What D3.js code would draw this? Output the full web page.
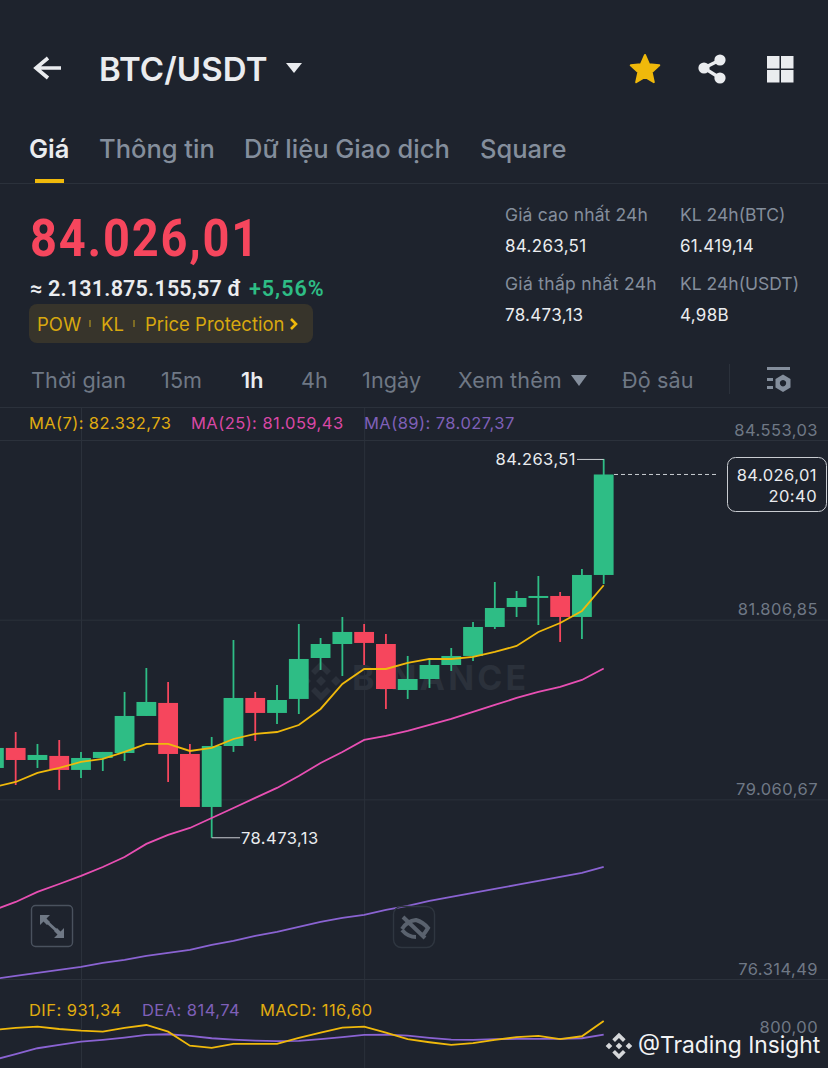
<!DOCTYPE html>
<html>
<head>
<meta charset="utf-8">
<script src="https://cdn.jsdelivr.net/npm/d3@7"></script>
<style>
  html, body { margin: 0; padding: 0; background: #1e232d; }
  svg { display: block; }
  text { font-family: Inter, "Noto Sans", sans-serif; }
</style>
</head>
<body>
<div id="chart"></div>
<script>
// candles, oldest first, one per hour
const opens  = [79540,79846,79662,79724,79510,79693,79769,80335,80534,79754,78944,79876,80610,80381,80595,81221,81435,81619,81435,80732,80900,81114,81252,81695,82001,82154,82169,81848,82490];
const highs  = [79968,80090,79907,79968,79785,79785,80702,81068,80854,79907,80014,81496,80702,80809,81741,81527,81848,81741,81588,81252,81221,81374,81771,82383,82245,82474,82230,82581,84263.51];
const lows   = [79433,79280,79540,79204,79387,79494,79647,80335,79326,78944,78473.13,79785,79953,80213,80365,81038,80946,81114,80442,80595,80763,81023,81175,81664,81848,81725,81466,81512,82352];
const closes = [79846,79662,79739,79510,79693,79785,80335,80549,79754,78944,79876,80610,80381,80579,81206,81435,81619,81451,80747,80900,81114,81252,81695,81985,82138,82169,81848,82490,84026.01];

const ma7  = [79250,79326,79464,79540,79632,79678,79785,79907,79907,79800,79846,79983,80060,80090,80197,80442,80824,81053,81053,81145,81206,81206,81237,81313,81405,81619,81756,81940,82332.73];
const ma25 = [77370,77492,77645,77767,77890,78027,78180,78379,78516,78623,78776,78929,79082,79235,79418,79617,79785,79968,80029,80106,80197,80289,80396,80503,80610,80702,80778,80885,81059.43];
const ma89 = [76315,76361,76407,76453,76499,76560,76606,76667,76713,76759,76835,76896,76973,77034,77110,77187,77248,77294,77370,77431,77507,77569,77630,77691,77752,77813,77874,77935,78027.37];

const dif = [855,872,883,863,849,840,872,897,840,721,702,736,736,736,787,832,874,883,832,776,750,727,742,770,793,804,776,801,931.34];
const dea = [600,648,699,727,755,770,789,812,818,804,784,772,764,759,761,776,793,812,815,806,787,772,770,776,778,778,778,784,814.74];

const priceTicks = [84553.03,81806.85,79060.67,76314.49];
const macdTick = 800;
const gridCandles = [4,17];
const lastPrice = 84026.01, lastTime = '20:40';
const highPrice = 84263.51, lowPrice = 78473.13;

const tabs = ['Giá','Thông tin','Dữ liệu Giao dịch','Square'];
const intervals = ['Thời gian','15m','1h','4h','1ngày','Xem thêm','Độ sâu'];

const col = {
  bg: '#1e232d', line: '#2b313b', text: '#eaecef', mute: '#848e9c',
  up: '#2ebd85', down: '#f6465d', yellow: '#f0b90b',
  pink: '#e84fb3', purple: '#8a63d2'
};

const W = 828, H = 1068;
const vi = d3.formatLocale({decimal: ',', thousands: '.', grouping: [3]});
const fmt = vi.format(',.2f');

const svg = d3.select('#chart').append('svg').attr('width', W).attr('height', H);
svg.append('rect').attr('width', W).attr('height', H).attr('fill', col.bg);

function label(str, x, y, size, fill, weight, anchor, spacing) {
  return svg.append('text').text(str).attr('x', x).attr('y', y)
    .attr('font-size', size).attr('fill', fill)
    .attr('font-weight', weight || 400)
    .attr('text-anchor', anchor || 'start')
    .attr('letter-spacing', spacing || 0);
}

// ---- header
svg.append('path').attr('d', 'M61 68H37M48 58L36 68L48 78').attr('fill', 'none')
  .attr('stroke', col.text).attr('stroke-width', 3.6);
label('BTC/USDT', 99, 81, 33, col.text, 600, 'start', 0.1);
svg.append('path').attr('d', 'M286 63H302L294 73Z').attr('fill', col.text);
svg.append('path').attr('fill', col.yellow).attr('stroke', col.yellow).attr('stroke-width', 2).attr('stroke-linejoin', 'round')
  .attr('d', d3.range(10).map(i => {
    const r = i % 2 ? 7 : 15, a = -Math.PI / 2 + i * Math.PI / 5;
    return (i ? 'L' : 'M') + (645 + r * Math.cos(a)) + ' ' + (70 + r * Math.sin(a));
  }).join('') + 'Z');
svg.append('path').attr('d', 'M720 60L704 68L720 78').attr('fill', 'none').attr('stroke', col.text).attr('stroke-width', 3.4);
[[704,68],[720,60],[720,78]].forEach(c => svg.append('circle').attr('cx', c[0]).attr('cy', c[1]).attr('r', 5.6).attr('fill', col.text));
[[767,56],[781,56],[767,70],[781,70]].forEach(c => svg.append('rect').attr('x', c[0]).attr('y', c[1]).attr('width', 12.5).attr('height', 12.5).attr('fill', col.text));

// ---- tabs
[29,99,244,480].forEach((x, i) => {
  label(tabs[i], x, 158, 25.5, i ? col.mute : col.text, i ? 500 : 600);
});
svg.append('rect').attr('x', 35).attr('y', 179).attr('width', 29).attr('height', 5).attr('fill', col.yellow);
svg.append('line').attr('x1', 0).attr('x2', W).attr('y1', 183.5).attr('y2', 183.5).attr('stroke', col.line);

// ---- price block
label('84.026,01', 30, 256, 52, col.down, 700, 'start', 2)
  .attr('textLength', 230).attr('lengthAdjust', 'spacingAndGlyphs').style('font-family', 'Roboto');
label('≈ 2.131.875.155,57 đ', 30, 296, 21.5, col.text, 600, 'start', 0.2).style('font-family', 'Roboto');
label('+5,56%', 249, 296, 21.5, col.up, 600, 'start', 1).style('font-family', 'Roboto');
svg.append('rect').attr('x', 29).attr('y', 304).attr('width', 284).attr('height', 39).attr('rx', 8).attr('fill', '#37342b');
label('POW', 37, 331, 18.5, '#d8a80f');
label('KL', 101, 331, 18.5, '#d8a80f');
label('Price Protection', 145, 331, 18.5, '#d8a80f');
[90,134].forEach(x => svg.append('line').attr('x1', x).attr('x2', x).attr('y1', 320).attr('y2', 327).attr('stroke', '#7d6c24').attr('stroke-width', 2));
svg.append('path').attr('d', 'M291 319L296 324L291 329').attr('fill', 'none').attr('stroke', col.yellow).attr('stroke-width', 2.6);

label('Giá cao nhất 24h', 505, 221, 17.5, col.mute, 400, 'start', 0.15);
label('84.263,51', 505, 252, 17, col.text, 400, 'start', 0.3);
label('Giá thấp nhất 24h', 505, 290, 17.5, col.mute, 400, 'start', 0.3);
label('78.473,13', 505, 321, 17, col.text, 400, 'start', 0.3);
label('KL 24h(BTC)', 680, 221, 17.5, col.mute);
label('61.419,14', 680, 252, 17, col.text, 400, 'start', 0.3);
label('KL 24h(USDT)', 680, 290, 17.5, col.mute);
label('4,98B', 680, 321, 17, col.text, 400, 'start', 0.3);

// ---- interval row
[31,161,241,301,362,458,622].forEach((x, i) => {
  label(intervals[i], x, 388, 21.6, i === 2 ? col.text : '#6f7885', i === 2 ? 600 : 400, 'start', 0.1);
});
svg.append('path').attr('d', 'M571 375H587L579 386Z').attr('fill', col.mute);
svg.append('line').attr('x1', 729.5).attr('x2', 729.5).attr('y1', 364).attr('y2', 394).attr('stroke', col.line);
svg.append('path').attr('fill', col.mute).attr('fill-rule', 'evenodd')
  .attr('d', 'M767 367H790V370H767ZM767 378H773V381H767ZM767 386H773V389H767ZM783 374.5L790.5 379V387.5L783 392L775.5 387.5V379ZM783 380a3.2 3.2 0 1 0 .01 0Z');
svg.append('line').attr('x1', 0).attr('x2', W).attr('y1', 407.5).attr('y2', 407.5).attr('stroke', col.line);

// ---- scales
const idx = d3.range(opens.length);
const x = d3.scaleLinear().domain([0, opens.length - 1]).range([-6.1, 603.7]);
const y = d3.scaleLinear().domain([priceTicks[3], priceTicks[0]]).range([979, 440]);
const yM = d3.scaleLinear().domain([530.7, 1280.2]).range([1068, 980]);
const bodyW = 19.8;

// ---- grid and axes
const xAxisG = svg.append('g').attr('transform', 'translate(0,1068)')
  .call(d3.axisBottom(x).tickValues(gridCandles).tickSize(-660).tickFormat(''));
xAxisG.select('.domain').remove();
xAxisG.selectAll('line').attr('stroke', col.line);

const yAxisG = svg.append('g').attr('transform', `translate(${W},0)`)
  .call(d3.axisLeft(y).tickValues(priceTicks).tickSize(W).tickFormat(fmt));
yAxisG.select('.domain').remove();
yAxisG.selectAll('line').attr('stroke', col.line);
yAxisG.selectAll('text').attr('x', -10).attr('dy', -5).attr('font-size', 16.5)
  .attr('fill', '#6f7885').attr('font-family', 'Inter').attr('text-anchor', 'end').attr('letter-spacing', 0.45);

// ---- watermark
const logoPath = 'M12 2L7 7L9 9L12 6L15 9L17 7ZM12 22L7 17L9 15L12 18L15 15L17 17ZM2 12L4.5 9.5L7 12L4.5 14.5ZM22 12L19.5 9.5L17 12L19.5 14.5ZM12 9.5L14.5 12L12 14.5L9.5 12Z';
svg.append('path').attr('d', logoPath).attr('fill', '#2b313b').attr('transform', 'translate(297,657) scale(2)');
label('BINANCE', 352, 690, 34, '#2b313b', 700, 'start', 3.2);

// ---- candles
const candle = svg.append('g').selectAll('g').data(idx).join('g');
candle.append('line')
  .attr('x1', i => x(i)).attr('x2', i => x(i))
  .attr('y1', i => y(highs[i])).attr('y2', i => y(lows[i]))
  .attr('stroke', i => closes[i] >= opens[i] ? col.up : col.down)
  .attr('stroke-width', 1.8);
candle.append('rect')
  .attr('x', i => x(i) - bodyW / 2).attr('width', bodyW)
  .attr('y', i => y(Math.max(opens[i], closes[i])))
  .attr('height', i => Math.max(2, Math.abs(y(opens[i]) - y(closes[i]))))
  .attr('fill', i => closes[i] >= opens[i] ? col.up : col.down);

// ---- moving averages and MACD
const priceLine = d3.line().x((d, i) => x(i)).y(d => y(d));
const macdLine = d3.line().x((d, i) => x(i)).y(d => yM(d));
[[ma89, col.purple], [ma25, col.pink], [ma7, col.yellow]].forEach(s => {
  svg.append('path').datum(s[0]).attr('d', priceLine).attr('fill', 'none').attr('stroke', s[1]).attr('stroke-width', 1.8);
});
[[dea, col.purple], [dif, col.yellow]].forEach(s => {
  svg.append('path').datum(s[0]).attr('d', macdLine).attr('fill', 'none').attr('stroke', s[1]).attr('stroke-width', 1.8);
});

// ---- high / low / last price labels
const hiX = x(idx[idx.length - 1]), loX = x(lows.indexOf(lowPrice));
svg.append('path').attr('fill', 'none').attr('stroke', '#c9ccd1').attr('stroke-width', 1)
  .attr('d', `M${hiX} ${y(highPrice) + 0.5}H577M${loX} ${y(lowPrice)}H240`);
label(fmt(highPrice), 576, y(highPrice) + 6, 16.5, col.text, 400, 'end', 0.45);
label(fmt(lowPrice), 241, y(lowPrice) + 6, 16.5, col.text, 400, 'start', 0.45);

svg.append('line').attr('x1', 614).attr('x2', 718).attr('y1', y(lastPrice)).attr('y2', y(lastPrice))
  .attr('stroke', '#c9ccd1').attr('stroke-dasharray', '4 3');
svg.append('rect').attr('x', 727.5).attr('y', 457.5).attr('width', 99).attr('height', 54).attr('rx', 8)
  .attr('fill', col.bg).attr('stroke', '#c9ccd1');
label(fmt(lastPrice), 817, 481, 16.5, col.text, 400, 'end', 0.45);
label(lastTime, 817, 502, 16.5, col.text, 400, 'end', 0.45);

// ---- legends
label('MA(7): 82.332,73', 29, 429, 16.5, '#e0ac10', 400, 'start', 0.4);
label('MA(25): 81.059,43', 191, 429, 16.5, '#d948a5', 400, 'start', 0.45);
label('MA(89): 78.027,37', 364, 429, 16.5, '#7f60b8', 400, 'start', 0.45);
label('DIF: 931,34', 29, 1016, 16.5, '#e0ac10', 400, 'start', 0.45);
label('DEA: 814,74', 142, 1016, 16.5, '#7f60b8', 400, 'start', 0.45);
label('MACD: 116,60', 260, 1016, 16.5, '#e0ac10', 400, 'start', 0.45);
label(fmt(macdTick), 818, 1033, 16.5, '#6f7885', 400, 'end', 0.45);

// ---- chart buttons
svg.append('rect').attr('x', 31.5).attr('y', 905.5).attr('width', 41).attr('height', 41).attr('rx', 4)
  .attr('fill', 'none').attr('stroke', '#4a525e').attr('stroke-width', 1.4);
svg.append('path').attr('fill', '#6f7885')
  .attr('d', 'M40 915H50L46.5 918.5L50 922L47 925L43.5 921.5L40 925ZM64 938H54L57.5 934.5L54 931L57 928L60.5 931.5L64 928Z');
svg.append('path').attr('fill', 'none').attr('stroke', '#6f7885').attr('stroke-width', 3).attr('d', 'M46 921L58 932');
svg.append('rect').attr('x', 393.5).attr('y', 906.5).attr('width', 41).attr('height', 41).attr('rx', 8)
  .attr('fill', 'none').attr('stroke', '#2f3640').attr('stroke-width', 1.4);
svg.append('path').attr('fill', 'none').attr('stroke', '#5a626e').attr('stroke-width', 4)
  .attr('d', 'M403 917L425 938M402 929Q407 921 416 920Q423 922 428 928Q425 933 423 935M402 930Q408 937 416 937');

// ---- credit
svg.append('path').attr('d', logoPath).attr('fill', '#d5d7da').attr('transform', 'translate(603,1030) scale(1.33)');
label('@Trading Insight', 638, 1053, 22.8, '#f2f3f4');
</script>
</body>
</html>
